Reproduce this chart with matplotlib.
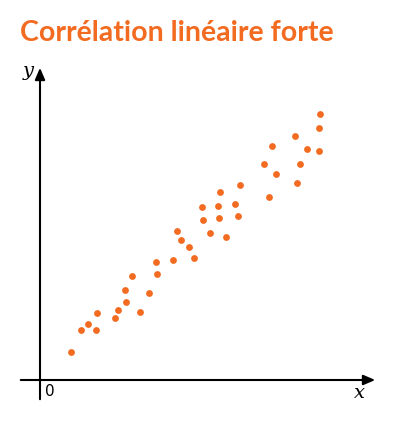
import matplotlib
matplotlib.use("Agg")
import matplotlib.pyplot as plt
plt.rcParams['mathtext.fontset'] = 'dejavuserif'

x_vals = [31,41,48,56,57,75,78,86,85,92,100,109,116,117,133,137,141,149,154,162,163,170,178,179,180,186,195,198,200,224,229,232,236,255,257,260,267,279,280,279]
y_vals = [28,50,56,50,67,62,70,78,90,104,68,87,118,106,120,149,140,133,122,173,160,147,174,162,188,143,176,164,195,216,183,234,206,244,197,216,231,252,266,229]

fig = plt.figure(figsize=(4.0, 4.21), dpi=100)
ax = fig.add_axes([0, 0, 1, 1])
ax.set_xlim(-40, 360)
ax.set_ylim(-41, 380)
ax.axis('off')

orange = '#F26B21'
ax.scatter(x_vals, y_vals, s=24, color=orange, zorder=3, linewidths=0)

ax.annotate('', xy=(338, 0), xytext=(-22, 0),
            arrowprops=dict(arrowstyle='-|>,head_length=0.7,head_width=0.3', color='black', lw=1.5))
ax.annotate('', xy=(0, 315), xytext=(0, -22),
            arrowprops=dict(arrowstyle='-|>,head_length=0.7,head_width=0.3', color='black', lw=1.5))

ax.text(5, -12, '0', fontsize=11, ha='left', va='center', family='DejaVu Sans')
ax.text(319, -12, '$x$', fontsize=14, ha='center', va='center')
ax.text(-11, 308, '$y$', fontsize=14, ha='center', va='center')

fig.text(20/400, 1 - 33/421, 'Corrélation linéaire forte', fontsize=20.5, fontweight='bold',
         color=orange, ha='left', va='center', family='Lato')

fig.savefig('out.png', dpi=100)
